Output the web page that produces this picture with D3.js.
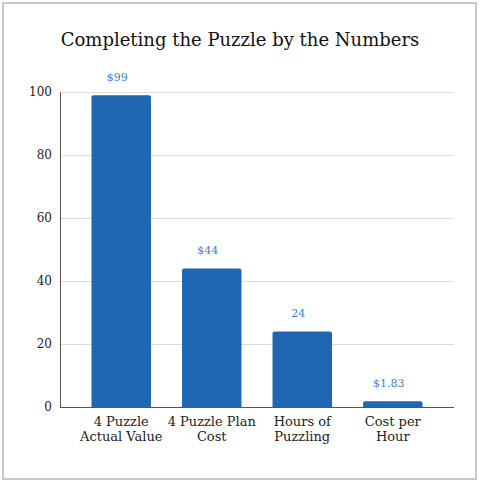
<!DOCTYPE html>
<meta charset="utf-8">
<head>
<style>
  body { margin: 0; background: #fff; }
  .frame { fill: none; stroke: #c8c8c8; stroke-width: 2; }
  .grid line { stroke: #dcdcdc; }
  .tick text { font-family: "DejaVu Serif", serif; fill: #222; }
</style>
</head>
<script src="https://d3js.org/d3.v7.min.js"></script>
<div id="chart"></div>
<script>
// data
var categories = ["4 Puzzle|Actual Value", "4 Puzzle Plan|Cost", "Hours of|Puzzling", "Cost per|Hour"];
var values = [99, 44, 24, 1.83];
var valueLabels = ["$99", "$44", "24", "$1.83"];
var yTicks = [0, 20, 40, 60, 80, 100];

var W = 480, H = 483;
var svg = d3.select("#chart").append("svg")
    .attr("width", W).attr("height", H);

svg.append("rect").attr("class", "frame")
    .attr("x", 3).attr("y", 3).attr("width", 473).attr("height", 476);

svg.append("text")
    .attr("x", 240).attr("y", 46)
    .attr("text-anchor", "middle")
    .style("font-family", "'DejaVu Serif', serif")
    .style("font-size", "18px")
    .attr("fill", "#111")
    .text("Completing the Puzzle by the Numbers");

var plotLeft = 60, plotRight = 454, plotTop = 92, plotBottom = 407;

var x = d3.scaleBand().domain(categories).range([plotLeft, plotRight]).paddingInner(0.343).paddingOuter(0.348);
var y = d3.scaleLinear().domain([0, 100]).range([plotBottom, plotTop]);

// gridlines
svg.append("g").attr("class", "grid")
  .selectAll("line").data(yTicks.slice(1)).enter().append("line")
    .attr("x1", plotLeft).attr("x2", plotRight)
    .attr("y1", function(d) { return y(d) + 0.5; }).attr("y2", function(d) { return y(d) + 0.5; });

// bars (slightly rounded tops)
svg.append("g").selectAll("path").data(values).enter().append("path")
    .attr("fill", "#1f67b2")
    .attr("d", function(d, i) {
      var x0 = x(categories[i]), w = x.bandwidth(), y0 = y(d), r = Math.min(2, (plotBottom - y0) / 2);
      return "M" + x0 + "," + plotBottom + "V" + (y0 + r) + "Q" + x0 + "," + y0 + " " + (x0 + r) + "," + y0 +
             "H" + (x0 + w - r) + "Q" + (x0 + w) + "," + y0 + " " + (x0 + w) + "," + (y0 + r) + "V" + plotBottom + "Z";
    });

// value labels
svg.append("g").selectAll("text").data(values).enter().append("text")
    .attr("x", function(d, i) { return x(categories[i]) + x.bandwidth() / 2 - 4; })
    .attr("y", function(d) { return y(d) - 14; })
    .attr("text-anchor", "middle")
    .style("font-family", "'DejaVu Serif', serif")
    .style("font-size", "11px")
    .attr("fill", "#3d7fcc")
    .text(function(d, i) { return valueLabels[i]; });

// y axis
var yAxis = svg.append("g").attr("transform", "translate(" + plotLeft + ",0)")
    .call(d3.axisLeft(y).tickValues(yTicks).tickSize(0).tickPadding(8));
yAxis.select(".domain").attr("stroke", "#555");
yAxis.selectAll("text").style("font-size", "12px");

// x axis
var xAxis = svg.append("g").attr("transform", "translate(0," + plotBottom + ")")
    .call(d3.axisBottom(x).tickSize(0).tickFormat(""));
xAxis.select(".domain").attr("stroke", "#555").attr("d", "M" + plotLeft + ",0.5H" + plotRight);

xAxis.selectAll(".tick").append("text")
    .style("font-size", "13px")
    .attr("text-anchor", "middle")
    .each(function(d) {
      var lines = d.split("|");
      var t = d3.select(this);
      lines.forEach(function(s, k) {
        t.append("tspan").attr("x", 0).attr("y", 19 + k * 14.5).text(s);
      });
    });
</script>
